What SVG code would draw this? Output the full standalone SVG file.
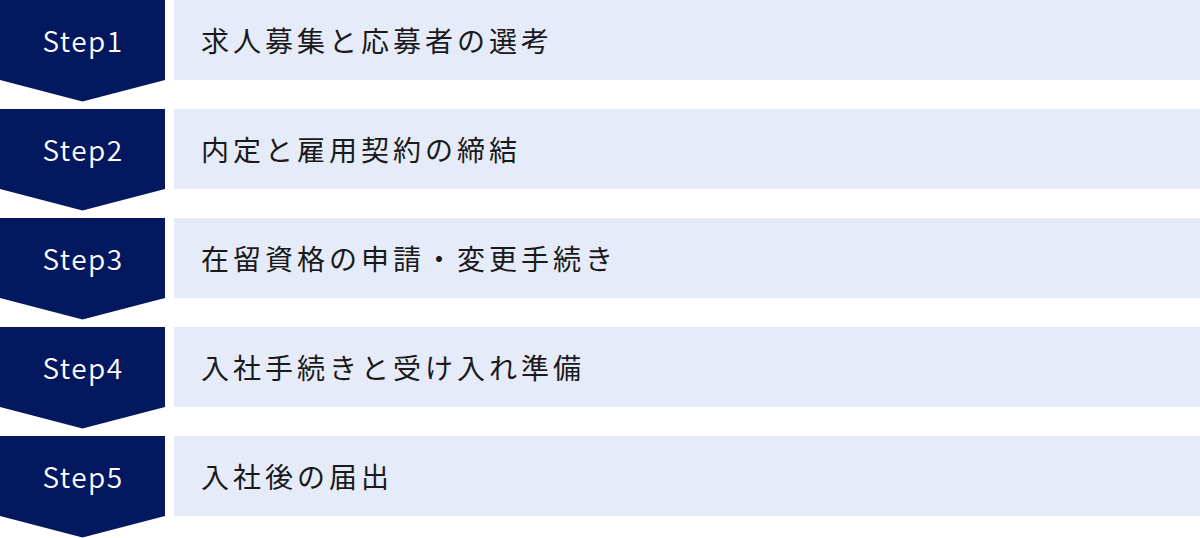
<svg xmlns="http://www.w3.org/2000/svg" width="1200" height="538" viewBox="0 0 1200 538">
<style>
.step{fill:#04185f}
.box{fill:#e5ebf8}
.st{font-family:"Noto Sans CJK JP","Noto Sans",sans-serif;font-size:28px;font-weight:350;fill:#ffffff;text-anchor:middle;letter-spacing:1.5px}
.lb{font-family:"Noto Sans CJK JP","Noto Sans",sans-serif;font-size:28px;font-weight:400;fill:#1a1a1a;letter-spacing:4px}
</style>
<defs>
<path id="chev" d="M0,0 H165 V80 L82.5,101.5 L0,80 Z"/>
</defs>
<rect width="1200" height="538" fill="#ffffff"/>
<g id="step1" transform="translate(0,0)">
<use href="#chev" class="step"/>
<text class="st" x="83" y="52">Step1</text>
<rect class="box" x="174" y="0" width="1026" height="80"/>
<text class="lb" x="201" y="52">求人募集と応募者の選考</text>
</g>
<g id="step2" transform="translate(0,109)">
<use href="#chev" class="step"/>
<text class="st" x="83" y="52">Step2</text>
<rect class="box" x="174" y="0" width="1026" height="80"/>
<text class="lb" x="201" y="52">内定と雇用契約の締結</text>
</g>
<g id="step3" transform="translate(0,218)">
<use href="#chev" class="step"/>
<text class="st" x="83" y="52">Step3</text>
<rect class="box" x="174" y="0" width="1026" height="80"/>
<text class="lb" x="201" y="52">在留資格の申請・変更手続き</text>
</g>
<g id="step4" transform="translate(0,327)">
<use href="#chev" class="step"/>
<text class="st" x="83" y="52">Step4</text>
<rect class="box" x="174" y="0" width="1026" height="80"/>
<text class="lb" x="201" y="52">入社手続きと受け入れ準備</text>
</g>
<g id="step5" transform="translate(0,436)">
<use href="#chev" class="step"/>
<text class="st" x="83" y="52">Step5</text>
<rect class="box" x="174" y="0" width="1026" height="80"/>
<text class="lb" x="201" y="52">入社後の届出</text>
</g>
<g id="connectors"></g>
</svg>
